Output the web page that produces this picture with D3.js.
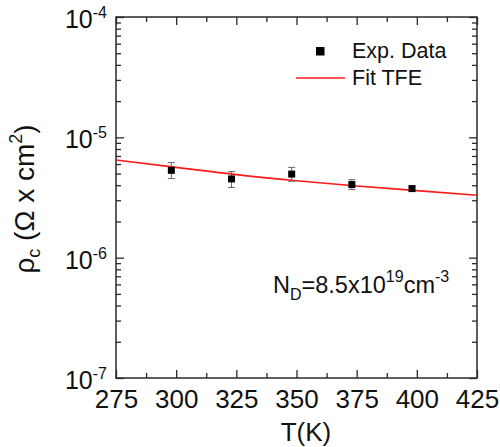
<!DOCTYPE html>
<html>
<head>
<meta charset="utf-8">
<script src="https://cdn.jsdelivr.net/npm/d3@7"></script>
<style>
  body { margin: 0; background: #fff; }
  svg text { font-family: "Liberation Sans", Arial, sans-serif; fill: #111; }
</style>
</head>
<body>
<div id="chart"></div>
<script>
// data
const tempTicks = [275, 300, 325, 350, 375, 400, 425];
const tempMinor = [287.5, 312.5, 337.5, 362.5, 387.5, 412.5];
const rhoDecades = [1e-7, 1e-6, 1e-5, 1e-4];
const rhoExponents = ["-7", "-6", "-5", "-4"];

const expT = [298, 323, 348, 373, 398];
const expRho = [5.32e-6, 4.51e-6, 4.95e-6, 4.05e-6, 3.75e-6];
const expLow = [4.54e-6, 3.83e-6, 4.32e-6, 3.68e-6, 3.6e-6];
const expHigh = [6.16e-6, 5.19e-6, 5.63e-6, 4.45e-6, 3.9e-6];

const fitT = [275, 300, 325, 350, 375, 400, 425];
const fitRho = [6.48e-6, 5.63e-6, 4.90e-6, 4.36e-6, 3.94e-6, 3.61e-6, 3.30e-6];

let width = 500, height = 447;
let margin = { top: 17, right: 23, bottom: 69, left: 116 };

let svg = d3.select("#chart").append("svg").attr("width", width).attr("height", height);

let xScale = d3.scaleLinear().domain([275, 425]).range([margin.left, width - margin.right]);
let yScale = d3.scaleLog().domain([1e-7, 1e-4]).range([height - margin.bottom, margin.top]);

// minor ticks for the log axis: 2..9 in each decade
let rhoMinor = [];
rhoDecades.slice(0, -1).forEach(function (d) {
  for (let k = 2; k <= 9; k++) rhoMinor.push(d * k);
});

let x0 = xScale.range()[0], x1 = xScale.range()[1];
let y0 = yScale.range()[0], y1 = yScale.range()[1];
let axisColor = "#2a2a2a";

function styleAxis(g) {
  g.select(".domain").remove();
  g.selectAll(".tick line").attr("stroke", axisColor).attr("stroke-width", 1.3);
}

// bottom axis
svg.append("g").attr("transform", "translate(0," + y0 + ")")
  .call(d3.axisBottom(xScale).tickValues(tempMinor).tickSize(-5).tickFormat(""))
  .call(styleAxis);
svg.append("g").attr("transform", "translate(0," + y0 + ")")
  .call(d3.axisBottom(xScale).tickValues(tempTicks).tickSize(-8).tickPadding(12).tickFormat(d3.format("d")))
  .call(styleAxis)
  .selectAll("text").style("font-size", "26px");

// top axis
svg.append("g").attr("transform", "translate(0," + y1 + ")")
  .call(d3.axisTop(xScale).tickValues(tempMinor).tickSize(-5).tickFormat(""))
  .call(styleAxis);
svg.append("g").attr("transform", "translate(0," + y1 + ")")
  .call(d3.axisTop(xScale).tickValues(tempTicks).tickSize(-8).tickFormat(""))
  .call(styleAxis);

// left axis
svg.append("g").attr("transform", "translate(" + x0 + ",0)")
  .call(d3.axisLeft(yScale).tickValues(rhoMinor).tickSize(-5).tickFormat(""))
  .call(styleAxis);
svg.append("g").attr("transform", "translate(" + x0 + ",0)")
  .call(d3.axisLeft(yScale).tickValues(rhoDecades).tickSize(-8).tickFormat(""))
  .call(styleAxis);

// right axis
svg.append("g").attr("transform", "translate(" + x1 + ",0)")
  .call(d3.axisRight(yScale).tickValues(rhoMinor).tickSize(-5).tickFormat(""))
  .call(styleAxis);
svg.append("g").attr("transform", "translate(" + x1 + ",0)")
  .call(d3.axisRight(yScale).tickValues(rhoDecades).tickSize(-8).tickFormat(""))
  .call(styleAxis);

// frame
svg.append("rect")
  .attr("x", x0).attr("y", y1)
  .attr("width", x1 - x0).attr("height", y0 - y1)
  .attr("fill", "none").attr("stroke", axisColor).attr("stroke-width", 1.5);

// y tick labels 10^n
rhoDecades.forEach(function (d, i) {
  let t = svg.append("text")
    .attr("x", x0 - 9).attr("y", yScale(d) + 11)
    .attr("text-anchor", "end");
  t.append("tspan").style("font-size", "25px").text("10");
  t.append("tspan").style("font-size", "16px").attr("dy", -10).text(rhoExponents[i]);
});

// fit line
let line = d3.line()
  .x(function (d, i) { return xScale(fitT[i]); })
  .y(function (d) { return yScale(d); })
  .curve(d3.curveMonotoneX);

svg.append("path")
  .datum(fitRho)
  .attr("d", line)
  .attr("fill", "none")
  .attr("stroke", "#ff1a1a")
  .attr("stroke-width", 1.6);

// error bars
let errs = svg.append("g").attr("stroke", "#666").attr("stroke-width", 1);
expT.forEach(function (t, i) {
  let cx = xScale(t);
  errs.append("line").attr("x1", cx).attr("x2", cx).attr("y1", yScale(expLow[i])).attr("y2", yScale(expHigh[i]));
  errs.append("line").attr("x1", cx - 3.5).attr("x2", cx + 3.5).attr("y1", yScale(expLow[i])).attr("y2", yScale(expLow[i]));
  errs.append("line").attr("x1", cx - 3.5).attr("x2", cx + 3.5).attr("y1", yScale(expHigh[i])).attr("y2", yScale(expHigh[i]));
});

// data squares
svg.selectAll(".pt").data(expRho).enter().append("rect")
  .attr("class", "pt")
  .attr("x", function (d, i) { return xScale(expT[i]) - 3.5; })
  .attr("y", function (d) { return yScale(d) - 3.5; })
  .attr("width", 7).attr("height", 7)
  .attr("fill", "#000");

// legend
svg.append("rect").attr("x", 316).attr("y", 47).attr("width", 8.5).attr("height", 8.5).attr("fill", "#000");
svg.append("text").attr("x", 352).attr("y", 58).style("font-size", "21.5px").text("Exp. Data");
svg.append("line").attr("x1", 296).attr("x2", 345).attr("y1", 78).attr("y2", 78)
  .attr("stroke", "#ff1a1a").attr("stroke-width", 1.6);
svg.append("text").attr("x", 352).attr("y", 85).style("font-size", "21.5px").text("Fit TFE");

// doping annotation
let nd = svg.append("text").attr("x", 273).attr("y", 293).style("font-size", "23.5px");
nd.append("tspan").text("N");
nd.append("tspan").style("font-size", "16px").attr("dy", 7).text("D");
nd.append("tspan").attr("dy", -7).text("=8.5x10");
nd.append("tspan").style("font-size", "16px").attr("dy", -11).text("19");
nd.append("tspan").attr("dy", 11).text("cm");
nd.append("tspan").style("font-size", "16px").attr("dy", -11).text("-3");

// axis titles
svg.append("text")
  .attr("x", 306).attr("y", 441)
  .attr("text-anchor", "middle")
  .style("font-size", "26px")
  .text("T(K)");

let yl = svg.append("text")
  .attr("transform", "translate(34,199) rotate(-90)")
  .attr("text-anchor", "middle")
  .style("font-size", "28px");
yl.append("tspan").text("ρ");
yl.append("tspan").style("font-size", "18px").attr("dy", 6).text("c");
yl.append("tspan").attr("dy", -6).text(" (Ω x cm");
yl.append("tspan").style("font-size", "18px").attr("dy", -12).text("2");
yl.append("tspan").attr("dy", 12).text(")");
</script>
</body>
</html>
